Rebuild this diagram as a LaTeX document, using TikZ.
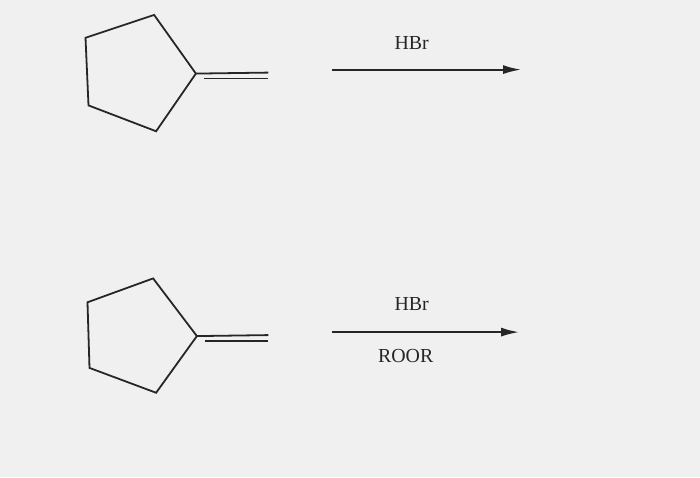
\documentclass[tikz,border=0pt]{standalone}
\usepackage{fontspec}
\setmainfont{Liberation Serif}
\usetikzlibrary{arrows.meta}
\begin{document}
\begin{tikzpicture}[x=1pt,y=-1pt,line width=1.8pt,
  bond/.style={draw=black!85,line join=miter},
  reag/.style={font=\fontsize{20}{22}\selectfont,text=black!85,inner sep=0pt},
  arr/.style={draw=black!85,-{Latex[length=18pt,width=9pt]}}]
\fill[gray!12] (-2,-2) rectangle (702,478);
\useasboundingbox (0,0) rectangle (700,476);
% top molecule
\coordinate (a1) at (153,13); \coordinate (a2) at (195,72); \coordinate (a3) at (155,130);
\coordinate (a4) at (87,104); \coordinate (a5) at (84,36);
\draw[bond] (a1)--(a2)--(a3)--(a4)--(a5)--cycle;
\coordinate (ae) at (268,71); \coordinate (af1) at (203,77); \coordinate (af2) at (268,77);
\draw[bond] (a2)--(ae); \draw[bond] (af1)--(af2);
% top arrow
\coordinate (t1) at (332,68); \coordinate (t2) at (522,68);
\draw[arr] (t1)--(t2);
\node[reag] (hbr1) at (412,41) {HBr};
% bottom molecule
\coordinate (b1) at (152,278); \coordinate (b2) at (196,336); \coordinate (b3) at (155,393);
\coordinate (b4) at (88,368); \coordinate (b5) at (86,302);
\draw[bond] (b1)--(b2)--(b3)--(b4)--(b5)--cycle;
\coordinate (be) at (268,335); \coordinate (bf1) at (204,341); \coordinate (bf2) at (268,341);
\draw[bond] (b2)--(be); \draw[bond] (bf1)--(bf2);
% bottom arrow
\coordinate (u1) at (332,332); \coordinate (u2) at (520,332);
\draw[arr] (u1)--(u2);
\node[reag] (hbr2) at (412,304) {HBr};
\node[reag] (roor) at (406,356) {ROOR};
\end{tikzpicture}
\end{document}
